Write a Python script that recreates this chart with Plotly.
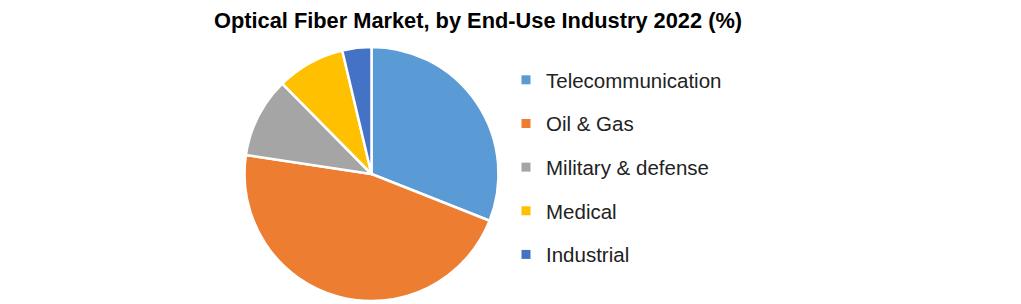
import plotly.graph_objects as go

categories = ["Telecommunication", "Oil & Gas", "Military & defense", "Medical", "Industrial"]
shares = [31.0, 46.4, 10.2, 8.7, 3.7]
colors = ["#5B9BD5", "#ED7D31", "#A5A5A5", "#FFC000", "#4472C4"]

W, H = 1021, 304
cx, cy, r = 371.5, 174, 127

fig = go.Figure()
fig.add_trace(go.Pie(
    labels=categories, values=shares, sort=False, direction="clockwise", rotation=0,
    marker=dict(colors=colors, line=dict(color="white", width=2.5)),
    textinfo="none", hoverinfo="label+percent", showlegend=False,
    domain=dict(x=[(cx - r) / W, (cx + r) / W], y=[(H - cy - r) / H, (H - cy + r) / H]),
))
for i, (c, col) in enumerate(zip(categories, colors)):
    fig.add_trace(go.Scatter(
        x=[None], y=[None], mode="markers", name=c, legendgroup=f"g{i}",
        marker=dict(symbol="square", size=9, color=col),
    ))

fig.update_layout(
    width=W, height=H, margin=dict(l=0, r=0, t=0, b=0),
    paper_bgcolor="white", plot_bgcolor="white",
    xaxis=dict(visible=False), yaxis=dict(visible=False),
    title=dict(text="<b>Optical Fiber Market, by End-Use Industry 2022 (%)</b>",
               x=478 / W, xanchor="center", y=1 - 20 / H, yanchor="middle",
               font=dict(family="Liberation Sans, Arial, sans-serif", size=21.8, color="black")),
    legend=dict(x=506 / W, xanchor="left", y=1 - 60 / H, yanchor="top",
                font=dict(family="Liberation Sans, Arial, sans-serif", size=20.5, color="#222"),
                tracegroupgap=14, bgcolor="rgba(0,0,0,0)"),
)
fig.write_html("out.html")
